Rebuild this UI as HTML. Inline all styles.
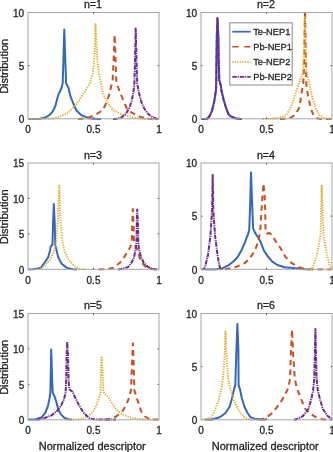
<!DOCTYPE html><html><head><meta charset="utf-8"><style>html,body{margin:0;padding:0;background:#fff;width:333px;height:452px;overflow:hidden}svg{display:block;will-change:transform}text{font-family:"Liberation Sans",sans-serif;fill:#262626;stroke:#262626;stroke-width:0.3}</style></head><body>
<svg width="333" height="452" viewBox="0 0 333 452">
<rect width="333" height="452" fill="#fff"/>
<defs>
<clipPath id="c0"><rect x="26.5" y="12.5" width="134" height="107.8"/></clipPath>
<clipPath id="c1"><rect x="199.5" y="12.5" width="134" height="107.8"/></clipPath>
<clipPath id="c2"><rect x="26.5" y="163" width="134" height="107.8"/></clipPath>
<clipPath id="c3"><rect x="199.5" y="163" width="134" height="107.8"/></clipPath>
<clipPath id="c4"><rect x="26.5" y="313.5" width="134" height="107.8"/></clipPath>
<clipPath id="c5"><rect x="199.5" y="313.5" width="134" height="107.8"/></clipPath>
</defs>
<g clip-path="url(#c0)" fill="none" stroke-linejoin="round"><polyline points="28,119 40,118.8 46,117.2 49.5,115 52,112.4 54,109 55.6,105.2 57.4,98 58.6,94 59.8,92 61.5,88 62.7,83.2 63.4,60 64.3,29.5 65.3,60 66.1,83.2 68.4,87.7 70.6,96.7 73.3,103.5 76.3,110.3 80.8,114.8 88.7,118.2 97.7,119 101,119" stroke="#3468ba" stroke-width="2.0"/><polyline points="78,119 87.5,118 95,115 99,112.5 102.3,110.3 105,105.8 108.6,96.7 110.8,87.7 112.6,81 113.6,60 114.7,34.7 115.6,60 116.3,81 117.6,85.5 119.9,92.2 123.7,101.3 126.6,108 131.6,112.6 140.6,117.1 148,118.7 155,119 158.5,119" stroke="#ca501d" stroke-width="2.0" stroke-dasharray="5.5 4.2"/><polyline points="28,119 52,118.6 58,117.2 62.8,115.4 67,113.4 70,110.8 75,106.2 80,98.6 85,91.8 89.8,83.2 92.1,76.4 93.9,65.1 95,42.6 95.5,24.1 96.5,42.6 97.4,60 98.5,70 100,78.7 103.4,94.5 107.9,103.5 113.5,110.3 122.6,114.8 133.9,117.5 145,119 158.5,119" stroke="#e2ad33" stroke-width="1.9" stroke-dasharray="1.3 1.2"/><polyline points="113,119 115.8,119 121.4,117.5 126,113.7 129.3,108 131.6,101.3 133.4,92.2 134.4,83.2 135,60 135.7,28.6 136.5,60 137.2,83.2 138.8,92.2 141.1,101.3 144,108 147.9,113.7 153,117.5 157.6,119 158.5,119" stroke="#6e2a90" stroke-width="2.0" stroke-dasharray="4.5 0.9 1.2 0.9"/></g>
<rect x="28" y="12.5" width="131" height="106.3" fill="none" stroke="#a6a6a6" stroke-width="1"/>
<path d="M93.5 118.8v-1.4M93.5 12.5v1.4M28 65.65h1.4M159 65.65h-1.4" stroke="#555" stroke-width="1" fill="none"/>
<text x="24.2" y="123" font-size="10" text-anchor="end">0</text>
<text x="24.2" y="69.85" font-size="10" text-anchor="end">5</text>
<text x="24.2" y="16.7" font-size="10" text-anchor="end">10</text>
<text x="28" y="133.3" font-size="10" text-anchor="middle">0</text>
<text x="93.5" y="133.3" font-size="10" text-anchor="middle">0.5</text>
<text x="159" y="133.3" font-size="10" text-anchor="middle">1</text>
<text x="93" y="8.3" font-size="10.7" text-anchor="middle">n=1</text>
<text x="0" y="0" font-size="11" text-anchor="middle" transform="translate(8.4 66.35) rotate(-90)">Distribution</text>
<g clip-path="url(#c1)" fill="none" stroke-linejoin="round"><polyline points="201,119 205.5,119 207.5,118.6 209.5,116.1 212,110.7 214.2,101.7 216,90 216.3,80.1 216.5,60.7 216.8,36.3 217.5,18.1 218.3,36.3 218.7,60.7 219.3,80.1 220.6,84.5 221.4,90 223.5,99.3 225.8,107 228.5,114.3 231,116.5 235.3,118.3 240,119 242,119" stroke="#3468ba" stroke-width="2.0"/><polyline points="280,119 286,118.8 290,118 294.9,115.2 298.6,109 300.3,101.6 301.8,91.7 303.2,84.3 304.3,60 305,5 305.8,60 306.3,84.3 307.3,91.7 309.3,101.6 311,109 313.5,115.2 317.2,118.3 321,119 333,119" stroke="#ca501d" stroke-width="2.0" stroke-dasharray="5.5 4.2"/><polyline points="262.5,119 275,118.5 282,117 286.2,115.2 290,109 293.7,99.1 296.9,89.2 300.3,79.3 303,71.9 304.2,45 304.8,16 305.6,45 306.6,71.9 308.5,79.3 310.5,89.2 312.7,99.1 316,109 319.7,115.2 324.6,118.3 333,119" stroke="#e2ad33" stroke-width="1.9" stroke-dasharray="1.3 1.2"/><polyline points="201,119 205.5,119 207.5,118.6 209.5,116.1 212,110.7 214.2,101.7 216,90 216.3,80.1 216.5,60.7 216.8,36.3 217.5,18.1 218.3,36.3 218.7,60.7 219.3,80.1 220.6,84.5 221.4,90 223.5,99.3 225.8,107 228.5,114.3 231,116.5 235.3,118.3 240,119 242,119" stroke="#6e2a90" stroke-width="2.0" stroke-dasharray="4.5 0.9 1.2 0.9"/></g>
<rect x="201" y="12.5" width="131" height="106.3" fill="none" stroke="#a6a6a6" stroke-width="1"/>
<path d="M266.5 118.8v-1.4M266.5 12.5v1.4M201 65.65h1.4M332 65.65h-1.4" stroke="#555" stroke-width="1" fill="none"/>
<text x="197.2" y="123" font-size="10" text-anchor="end">0</text>
<text x="197.2" y="69.85" font-size="10" text-anchor="end">5</text>
<text x="197.2" y="16.7" font-size="10" text-anchor="end">10</text>
<text x="201" y="133.3" font-size="10" text-anchor="middle">0</text>
<text x="266.5" y="133.3" font-size="10" text-anchor="middle">0.5</text>
<text x="332" y="133.3" font-size="10" text-anchor="middle">1</text>
<text x="266" y="8.3" font-size="10.7" text-anchor="middle">n=2</text>
<g clip-path="url(#c2)" fill="none" stroke-linejoin="round"><polyline points="28,269.5 33,269.3 38,268.5 41,267.6 44,263.5 48.1,257.4 50.2,250 50.6,246.5 52.4,245 53,225 53.8,204 54.8,225 55.2,245 56.3,249.2 58.3,257.4 61.4,263.5 66.5,267.6 72.6,269.2 77,269.5" stroke="#3468ba" stroke-width="2.0"/><polyline points="98.75,269.5 108.3,269 113.3,267.8 119.9,262.8 124.8,256.2 129,249.6 130.6,246.3 131.8,241 132.2,225 132.8,209.1 133.6,225 134,241 135.5,246.3 137.2,249.6 139.7,257.9 142.2,262.8 144.7,266 148,268.6 155,269.5 158.5,269.5" stroke="#ca501d" stroke-width="2.0" stroke-dasharray="5.5 4.2"/><polyline points="35.5,269.5 40,269 45.1,265.5 50.2,259.4 53.8,251.3 56.3,241 57.9,220.7 59.3,185.7 60.4,220.7 62.4,241 64.4,251.3 68.5,259.4 73.6,265.5 79.7,268.8 86,269.5" stroke="#e2ad33" stroke-width="1.9" stroke-dasharray="1.3 1.2"/><polyline points="118,269.5 121.5,269 128.1,267 131.4,262.8 133.9,257.9 135.6,249.6 136.5,241 136.8,225 137.2,209.6 138,225 138.3,241 138.9,249.6 141.4,257.9 143.8,262.8 148,267 152.9,269 158.5,269.5" stroke="#6e2a90" stroke-width="2.0" stroke-dasharray="4.5 0.9 1.2 0.9"/></g>
<rect x="28" y="163" width="131" height="106.3" fill="none" stroke="#a6a6a6" stroke-width="1"/>
<path d="M93.5 269.3v-1.4M93.5 163v1.4M28 233.87h1.4M159 233.87h-1.4M28 198.43h1.4M159 198.43h-1.4" stroke="#555" stroke-width="1" fill="none"/>
<text x="24.2" y="273.5" font-size="10" text-anchor="end">0</text>
<text x="24.2" y="238.07" font-size="10" text-anchor="end">5</text>
<text x="24.2" y="202.63" font-size="10" text-anchor="end">10</text>
<text x="24.2" y="167.2" font-size="10" text-anchor="end">15</text>
<text x="28" y="283.8" font-size="10" text-anchor="middle">0</text>
<text x="93.5" y="283.8" font-size="10" text-anchor="middle">0.5</text>
<text x="159" y="283.8" font-size="10" text-anchor="middle">1</text>
<text x="93" y="158.8" font-size="10.7" text-anchor="middle">n=3</text>
<text x="0" y="0" font-size="11" text-anchor="middle" transform="translate(8.4 216.85) rotate(-90)">Distribution</text>
<g clip-path="url(#c3)" fill="none" stroke-linejoin="round"><polyline points="205,269.5 215,269.5 220.9,268.8 228,265.6 232.8,262 237.5,257.3 241.5,250.2 244.6,243.1 246.5,238 247.8,235 249.2,230 250,210 250.4,195 251,172.6 251.8,195 252.4,210 253.1,228 254.9,232.6 258.5,238 261.2,243.4 263.9,250.6 267.5,256 272,261.4 277.4,265 284.6,267.2 295.5,268.3 305,269.3 310,269.5" stroke="#3468ba" stroke-width="2.0"/><polyline points="220,269.5 226,269.2 236.3,266.8 245,263 250.5,257.3 254.9,250.6 257.6,243.4 259.4,236.2 260.5,228 261.5,210 262.5,195 263.5,183.5 264.6,195 265.2,210 265.5,229 266.6,233.6 267.8,233.6 269.2,233 271.3,234.5 274.5,239.2 276.6,242.9 280.2,247.6 285.5,256.9 291.8,263.2 299,267.2 305,269 310,269.5 332,269.5" stroke="#ca501d" stroke-width="2.0" stroke-dasharray="5.5 4.2" stroke-dashoffset="4.63"/><polyline points="307.5,269.5 311.6,269 313.9,264.4 316.8,254.9 318.7,245.5 320.6,233.6 321.1,210 321.7,185.8 322.5,210 323.4,233.6 325.3,245.5 327,254.9 329.3,264.4 331.5,269 333,269.5" stroke="#e2ad33" stroke-width="1.9" stroke-dasharray="1.3 1.2"/><polyline points="201.5,269.5 203.8,269.3 205.2,266.5 206,263 208,254.9 210.4,236 212.1,210 212.7,174.9 213.3,210 215.1,236 217.5,254.9 219.1,264.4 220.3,268.5 222,269.5" stroke="#6e2a90" stroke-width="2.0" stroke-dasharray="4.5 0.9 1.2 0.9"/></g>
<rect x="201" y="163" width="131" height="106.3" fill="none" stroke="#a6a6a6" stroke-width="1"/>
<path d="M266.5 269.3v-1.4M266.5 163v1.4M201 216.15h1.4M332 216.15h-1.4" stroke="#555" stroke-width="1" fill="none"/>
<text x="197.2" y="273.5" font-size="10" text-anchor="end">0</text>
<text x="197.2" y="220.35" font-size="10" text-anchor="end">5</text>
<text x="197.2" y="167.2" font-size="10" text-anchor="end">10</text>
<text x="201" y="283.8" font-size="10" text-anchor="middle">0</text>
<text x="266.5" y="283.8" font-size="10" text-anchor="middle">0.5</text>
<text x="332" y="283.8" font-size="10" text-anchor="middle">1</text>
<text x="266" y="158.8" font-size="10.7" text-anchor="middle">n=4</text>
<g clip-path="url(#c4)" fill="none" stroke-linejoin="round"><polyline points="28,419.6 34,419.6 37.3,419 41.8,417.1 45.4,412.6 48.1,405.3 49.6,398 50.4,392.6 50.7,375 51.2,349.4 52,375 52.7,392.6 54.5,396.3 56.3,401.7 58.1,409 60.9,414.4 64.5,418 69,419.3 72,419.6" stroke="#3468ba" stroke-width="2.0"/><polyline points="105,419.6 108.8,419.4 116.1,416.5 122.1,411.7 126.4,404.5 129.3,397.3 131,390.1 131.8,370 132.9,343.2 133.9,370 134.3,390.1 136.5,397.3 138.9,404.5 141.3,411.7 144.9,416.5 149.7,419.2 155,419.6 158.5,419.6" stroke="#ca501d" stroke-width="2.0" stroke-dasharray="5.5 4.2"/><polyline points="65.5,419.6 75,419.5 82.4,418.9 87.2,416.5 93.2,411.7 96.8,404.5 99.2,397.3 100.4,393.7 100.8,375 101.6,356.4 102.6,375 103.4,391 104.5,393.7 107.6,396.1 111.25,402.1 116,409.3 122,414.1 130.5,417.7 142.5,419.3 158.5,419.6" stroke="#e2ad33" stroke-width="1.9" stroke-dasharray="1.3 1.2"/><polyline points="36,419.6 39,419.4 44.5,418 51.8,415.3 57.2,410.8 61.2,405.3 63.6,399.9 65.4,394.4 65.9,387.2 66.3,376.3 66.5,358.1 67.2,341.5 68.1,358.1 68.5,376.3 69,387.2 69.5,389.5 72.6,391.7 75.4,398 79,405.3 83.5,412.6 87.2,416.2 90,418.5 95,419.5 116,419.6" stroke="#6e2a90" stroke-width="2.0" stroke-dasharray="4.5 0.9 1.2 0.9"/></g>
<rect x="28" y="313.5" width="131" height="106.3" fill="none" stroke="#a6a6a6" stroke-width="1"/>
<path d="M93.5 419.8v-1.4M93.5 313.5v1.4M28 384.37h1.4M159 384.37h-1.4M28 348.93h1.4M159 348.93h-1.4" stroke="#555" stroke-width="1" fill="none"/>
<text x="24.2" y="424" font-size="10" text-anchor="end">0</text>
<text x="24.2" y="388.57" font-size="10" text-anchor="end">5</text>
<text x="24.2" y="353.13" font-size="10" text-anchor="end">10</text>
<text x="24.2" y="317.7" font-size="10" text-anchor="end">15</text>
<text x="28" y="434.3" font-size="10" text-anchor="middle">0</text>
<text x="93.5" y="434.3" font-size="10" text-anchor="middle">0.5</text>
<text x="159" y="434.3" font-size="10" text-anchor="middle">1</text>
<text x="93" y="309.3" font-size="10.7" text-anchor="middle">n=5</text>
<text x="0" y="0" font-size="11" text-anchor="middle" transform="translate(8.4 367.35) rotate(-90)">Distribution</text>
<text x="92.3" y="449.8" font-size="11" text-anchor="middle">Normalized descriptor</text>
<g clip-path="url(#c5)" fill="none" stroke-linejoin="round"><polyline points="205,419.6 212.1,419.5 219.7,417.3 225.5,413 229.7,406.5 232.1,398 234,389.4 235.3,385.1 236.4,350 237.4,324.1 238.4,350 238.6,385.1 240,389.4 241.8,398 244.3,406.5 247.6,413 250.5,417.3 256,419.1 262.2,419.5 266,419.6" stroke="#3468ba" stroke-width="2.0"/><polyline points="259,419.6 262,419.5 266.7,417.2 271.4,413.7 275.6,409 280.8,402 285,394.9 288.3,387.9 290.1,378.5 290.8,355.1 292,329.4 293.2,355.1 294.8,378.5 296.7,387.9 299.5,394.9 302.3,402 305.4,409 310,413.7 315.9,417.2 322.9,419.4 332,419.6" stroke="#ca501d" stroke-width="2.0" stroke-dasharray="5.5 4.2"/><polyline points="201.3,419.6 206,419.3 211.7,417.3 214.7,410.8 218.6,400.1 221.2,389.4 222.9,378.6 224.6,357.2 225.5,331.4 226.7,357.2 228.2,378.6 230.4,389.4 233.6,400.1 239,410.8 244.3,417.3 249.7,419.4 256,419.6" stroke="#e2ad33" stroke-width="1.9" stroke-dasharray="1.3 1.2"/><polyline points="294,419.6 296,419.5 303,416 308.4,409 311.2,399.6 313.1,390.3 314.3,378.5 314.8,355 315.4,328.9 316,355 316.6,378.5 317.8,390.3 320.1,399.6 322.9,409 327.6,416 332.3,419.4 333,419.6" stroke="#6e2a90" stroke-width="2.0" stroke-dasharray="4.5 0.9 1.2 0.9"/></g>
<rect x="201" y="313.5" width="131" height="106.3" fill="none" stroke="#a6a6a6" stroke-width="1"/>
<path d="M266.5 419.8v-1.4M266.5 313.5v1.4M201 366.65h1.4M332 366.65h-1.4" stroke="#555" stroke-width="1" fill="none"/>
<text x="197.2" y="424" font-size="10" text-anchor="end">0</text>
<text x="197.2" y="370.85" font-size="10" text-anchor="end">5</text>
<text x="197.2" y="317.7" font-size="10" text-anchor="end">10</text>
<text x="201" y="434.3" font-size="10" text-anchor="middle">0</text>
<text x="266.5" y="434.3" font-size="10" text-anchor="middle">0.5</text>
<text x="332" y="434.3" font-size="10" text-anchor="middle">1</text>
<text x="266" y="309.3" font-size="10.7" text-anchor="middle">n=6</text>
<text x="265.3" y="449.8" font-size="11" text-anchor="middle">Normalized descriptor</text>
<rect x="229.8" y="22.8" width="62.4" height="62.2" fill="#fff" stroke="#8a8a8a" stroke-width="1"/>
<line x1="232.3" y1="31.7" x2="250.6" y2="31.7" stroke="#3468ba" stroke-width="1.7"/>
<text x="253.2" y="34.8" font-size="9.3">Te-NEP1</text>
<line x1="232.3" y1="46.75" x2="250.6" y2="46.75" stroke="#ca501d" stroke-width="1.7" stroke-dasharray="6.3 5.6"/>
<text x="253.2" y="49.85" font-size="9.3">Pb-NEP1</text>
<line x1="232.3" y1="61.8" x2="250.6" y2="61.8" stroke="#e2ad33" stroke-width="1.7" stroke-dasharray="1.3 1.2"/>
<text x="253.2" y="64.9" font-size="9.3">Te-NEP2</text>
<line x1="232.3" y1="76.85" x2="250.6" y2="76.85" stroke="#6e2a90" stroke-width="1.7" stroke-dasharray="4.5 0.9 1.2 0.9"/>
<text x="253.2" y="79.95" font-size="9.3">Pb-NEP2</text>
</svg></body></html>
